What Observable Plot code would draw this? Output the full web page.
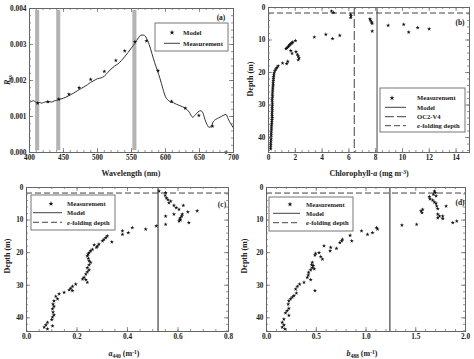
<!DOCTYPE html>
<html><head><meta charset="utf-8">
<script src="https://cdn.jsdelivr.net/npm/d3@7"></script>
<script src="https://cdn.jsdelivr.net/npm/@observablehq/plot@0.6"></script>
<style>
body{margin:0;background:#fff;}
#wrap{position:relative;width:474px;height:359px;overflow:hidden;background:#fff;}
#wrap svg{position:absolute;overflow:visible;}
</style></head><body><div id="wrap"></div>
<script>
// ---------- Panel (a) data ----------
const bandWavelengths = [412, 443, 555];
const measWavelength = [400,403,406,409,412,415,418,421,424,427,430,433,436,440,445,450,455,460,465,470,475,480,485,490,495,500,505,510,515,520,525,530,535,540,545,550,555,560,564,568,572,576,580,584,588,592,596,600,604,608,612,616,620,625,630,635,640,644,648,652,655,658,661,664,667,670,674,678,682,686,689,692,696,700];
const measRrs = [0.00145,0.00142,0.00144,0.00140,0.00138,0.00139,0.00137,0.00139,0.00141,0.00139,0.00141,0.00140,0.00143,0.00145,0.00148,0.00151,0.00155,0.00160,0.00165,0.00171,0.00177,0.00182,0.00188,0.00195,0.00200,0.00205,0.00207,0.00212,0.00222,0.00232,0.00240,0.00246,0.00255,0.00266,0.00278,0.00291,0.00303,0.00318,0.00326,0.00326,0.00318,0.00300,0.00275,0.00250,0.00228,0.00205,0.00178,0.00155,0.00145,0.00140,0.00138,0.00134,0.00131,0.00127,0.00122,0.00112,0.00098,0.00105,0.00113,0.00116,0.00110,0.00092,0.00078,0.00070,0.00072,0.00085,0.00092,0.00096,0.00100,0.00104,0.00106,0.00094,0.00080,0.00068];
const modelWavelength = [412,427,443,458,473,490,510,527,540,555,572,589,609,629,649,669,689];
const modelRrs = [0.00137,0.00141,0.00148,0.00162,0.00180,0.00203,0.00225,0.00256,0.00282,0.00308,0.00310,0.00227,0.00142,0.00123,0.00103,0.00073,0.00000];

// ---------- Panel (b) data: [chlorophyll-a, depth] ----------
const chlMeas = [[4.70,1.1],[4.85,1.6],[6.13,2.1],[6.16,2.6],[6.13,3.1],[7.57,3.5],[7.62,4.0],[7.69,4.5],[7.74,4.9],[7.74,7.3],[8.93,5.5],[10.09,5.2],[10.46,7.6],[11.13,6.2],[11.99,6.6],[3.42,9.1],[4.28,8.3],[4.78,9.6],[5.32,8.6],
[1.31,12.7],[1.38,12.4],[1.46,12.1],[1.52,11.8],[1.58,11.5],[1.65,11.2],[1.73,11.0],[1.81,10.7],[2.01,10.2],
[1.76,14.1],[1.66,13.3],[2.05,13.6],[2.15,14.4],[2.22,15.0],[2.28,15.6],[2.22,16.1],[1.44,16.6],[1.36,17.3],[1.05,17.1],
[0.72,18.0],[0.62,18.5],[0.55,19.0],[0.47,19.5],[0.42,20.1],[0.40,20.7],[0.38,21.3],[0.37,21.9],[0.36,22.5],[0.34,23.1],[0.35,23.7],[0.33,24.3],[0.32,24.9],[0.31,25.5],[0.30,26.1],[0.29,26.7],[0.30,27.3],[0.28,27.9],[0.27,28.5],[0.28,29.1],[0.29,29.7],[0.28,30.3],[0.27,30.9],[0.28,31.5],[0.27,32.1],[0.26,32.7],[0.27,33.3],[0.28,33.9],[0.26,34.5],[0.25,35.1],[0.24,35.7],[0.23,36.3],[0.22,36.9],[0.22,37.5],[0.21,38.1],[0.20,38.7],[0.20,39.3],[0.19,39.9],[0.19,40.5],[0.18,41.1],[0.17,41.7],[0.17,42.3],[0.16,42.9],[0.16,43.5]];
const chlModel = [8.1];
const chlOC2 = [6.4];
const eFoldingDepth = [1.7];

// ---------- Panel (c) data: [a440, depth] ----------
const a440Meas = [[0.525,1.1],[0.551,1.6],[0.549,2.4],[0.554,3.2],[0.560,3.7],[0.571,4.2],[0.564,4.7],[0.584,5.5],[0.593,6.2],[0.604,6.7],[0.621,5.5],[0.639,7.5],[0.676,7.2],[0.617,8.2],[0.615,8.8],[0.609,9.3],[0.607,9.8],[0.610,10.0],[0.584,8.2],[0.551,8.8],[0.551,11.3],[0.643,10.8],[0.604,10.3],
[0.514,11.8],[0.472,12.8],[0.419,12.3],[0.403,13.9],[0.380,13.3],[0.380,14.4],[0.338,16.7],[0.320,14.9],[0.314,15.4],[0.307,15.9],[0.301,16.4],[0.287,17.4],[0.281,18.0],[0.277,18.4],[0.268,17.6],[0.261,19.0],[0.254,19.5],[0.248,20.0],[0.244,20.5],[0.241,21.0],[0.245,21.8],[0.248,22.5],[0.254,23.0],[0.248,23.8],[0.241,24.6],[0.248,25.3],[0.241,25.9],[0.235,26.6],[0.228,27.6],[0.235,28.3],[0.241,29.1],[0.222,28.1],
[0.195,29.7],[0.182,30.4],[0.175,31.0],[0.169,31.4],[0.182,31.7],[0.149,32.2],[0.129,32.7],[0.116,33.4],[0.123,34.2],[0.109,34.8],[0.105,35.8],[0.109,36.5],[0.103,37.3],[0.105,38.3],[0.109,39.1],[0.103,39.8],[0.100,40.6],[0.083,41.4],[0.077,42.2],[0.070,42.9],[0.083,43.4],[0.103,42.5]];
const a440Model = [0.521];

// ---------- Panel (d) data: [b488, depth] ----------
const b488Meas = [[1.687,1.1],[1.697,1.6],[1.677,2.1],[1.704,2.6],[1.637,2.8],[1.643,3.5],[1.670,3.9],[1.687,4.5],[1.704,4.9],[1.711,5.7],[1.805,5.7],[1.721,6.5],[1.570,6.7],[1.553,7.2],[1.563,7.7],[1.721,8.2],[1.738,8.8],[1.771,8.8],[1.721,9.3],[1.771,9.6],[1.361,11.6],[1.509,11.3],[1.872,10.8],[1.912,10.3],
[1.106,12.3],[1.116,12.8],[1.065,13.9],[1.015,14.4],[0.955,13.3],[0.840,14.7],[0.857,16.4],[0.763,15.9],[0.756,16.4],[0.737,16.9],[0.703,18.7],[0.645,18.4],[0.639,19.5],[0.578,17.9],[0.562,22.0],[0.545,21.2],[0.528,20.0],[0.494,20.2],[0.487,20.8],[0.460,23.0],[0.454,23.8],[0.460,24.6],[0.444,25.3],[0.423,26.1],[0.420,26.9],[0.410,27.6],[0.444,28.3],[0.487,31.7],[0.470,24.0],[0.480,25.0],[0.377,29.1],[0.333,29.7],[0.310,30.4],[0.293,31.2],[0.300,32.4],[0.276,33.2],[0.259,33.7],[0.242,34.2],[0.225,34.8],[0.218,35.8],[0.225,37.1],[0.208,37.8],[0.191,38.5],[0.225,39.3],[0.175,40.4],[0.158,41.4],[0.175,42.2],[0.158,42.9],[0.185,43.4]];
const b488Model = [1.24];

// ---------- Tick labels ----------
const aXTicks = [400,450,500,550,600,650,700];
const aYTicks = [0,0.001,0.002,0.003,0.004];
const bXTicks = [0,2,4,6,8,10,12,14];
const depthTicks = [0,10,20,30,40];
const cXTicks = [0,0.2,0.4,0.6,0.8];
const dXTicks = [0,0.5,1.0,1.5,2.0];

const FONT = "'Liberation Serif','Times New Roman',serif";
const LINE = "#444";
const wrap = document.getElementById("wrap");

function range(a, b, s) { const out = []; for (let v = a; v <= b + s * 1e-6; v += s) out.push(+v.toFixed(6)); return out; }

function innerTicks(cfg, plotW, plotH) {
  const [x0, x1] = cfg.xDomain, [d0, d1] = cfg.yDomain;
  const yb = cfg.yReverse ? d1 : d0, yt = cfg.yReverse ? d0 : d1;
  const marks = [];
  const sets = [[cfg.xTicks, 4], [cfg.xMinor, 2]];
  for (const [vals, px] of sets) {
    const f = px / plotH;
    marks.push(Plot.ruleX(vals, {x: d => d, y1: yb, y2: yb + (yt - yb) * f, stroke: "#666", strokeWidth: 0.7}));
    marks.push(Plot.ruleX(vals, {x: d => d, y1: yt, y2: yt - (yt - yb) * f, stroke: "#666", strokeWidth: 0.7}));
  }
  const ysets = [[cfg.yTicks, 4], [cfg.yMinor, 2]];
  for (const [vals, px] of ysets) {
    const f = px / plotW;
    marks.push(Plot.ruleY(vals, {y: d => d, x1: x0, x2: x0 + (x1 - x0) * f, stroke: "#666", strokeWidth: 0.7}));
    marks.push(Plot.ruleY(vals, {y: d => d, x1: x1, x2: x1 - (x1 - x0) * f, stroke: "#666", strokeWidth: 0.7}));
  }
  return marks;
}

function panel(cfg) {
  const [ml, mt, mr, mb] = cfg.margins;
  const plotW = cfg.width - ml - mr, plotH = cfg.height - mt - mb;
  const svg = Plot.plot({
    width: cfg.width, height: cfg.height,
    marginLeft: ml, marginTop: mt, marginRight: mr, marginBottom: mb,
    style: {fontFamily: FONT, fontWeight: "bold", fontSize: "7.3px", background: "transparent", color: "#222", overflow: "visible"},
    x: {domain: cfg.xDomain, axis: null},
    y: {domain: cfg.yDomain, reverse: !!cfg.yReverse, axis: null},
    marks: [
      ...cfg.marks,
      ...innerTicks(cfg, plotW, plotH),
      Plot.frame({stroke: "#666", strokeWidth: 1}),
      Plot.axisX({ticks: cfg.xTicks, tickSize: 0, tickPadding: 2.5, tickFormat: cfg.xFmt, label: null, anchor: "bottom"}),
      Plot.axisY({ticks: cfg.yTicks, tickSize: 0, tickPadding: 3, tickFormat: cfg.yFmt, label: null, anchor: "left"})
    ]
  });
  svg.style.left = cfg.left + "px";
  svg.style.top = cfg.top + "px";
  wrap.appendChild(svg);
  return svg;
}

// helper: add rich text (tspans) at absolute coords
function richText(svg, ox, oy, x, y, parts, {size = 8, anchor = "middle", rotate = 0} = {}) {
  const t = d3.select(svg).append("text")
    .attr("transform", `translate(${x - ox},${y - oy}) rotate(${rotate})`)
    .attr("text-anchor", anchor).attr("dy", "0.35em")
    .attr("font-family", FONT).attr("font-weight", "bold").attr("font-size", size).attr("fill", "#222");
  for (const p of parts) {
    const s = t.append("tspan").text(p.t);
    if (p.i) s.attr("font-style", "italic");
    if (p.sub) s.attr("font-size", size * 0.7).attr("baseline-shift", "-25%");
    if (p.sup) s.attr("font-size", size * 0.7).attr("baseline-shift", "40%");
  }
  return t;
}

function legend(svg, ox, oy, box, rows, size = 6.6) {
  const g = d3.select(svg).append("g").attr("transform", `translate(${-ox},${-oy})`);
  g.append("rect").attr("x", box[0]).attr("y", box[1]).attr("width", box[2] - box[0]).attr("height", box[3] - box[1])
    .attr("fill", "white").attr("stroke", "#777").attr("stroke-width", 1);
  for (const r of rows) {
    if (r.kind === "dot") {
      g.append("path").attr("d", d3.symbol(d3.symbolStar, 8)()).attr("fill", "#111")
        .attr("transform", `translate(${r.sx},${r.y})`);
    } else {
      g.append("line").attr("x1", r.x1).attr("x2", r.x2).attr("y1", r.y).attr("y2", r.y)
        .attr("stroke", LINE).attr("stroke-width", 1).attr("stroke-dasharray", r.dash || null);
    }
    const t = g.append("text").attr("x", r.tx).attr("y", r.y).attr("dy", "0.35em").attr("font-family", FONT)
      .attr("text-anchor", "start")
      .attr("font-weight", "bold").attr("font-size", size).attr("fill", "#222");
    if (r.label === "e-folding depth") {
      t.append("tspan").attr("font-style", "italic").text("e");
      t.append("tspan").text("-folding depth");
    } else t.text(r.label);
  }
}

const dotOpts = {symbol: "star", r: 1.3, fill: "#111", stroke: "none"};

// ----- Panel (a) -----
const measA = measWavelength.map((w, i) => ({w, r: measRrs[i]}));
const modelA = modelWavelength.map((w, i) => ({w, r: modelRrs[i]}));
const svgA = panel({
  left: 0, top: 0, width: 237, height: 180, margins: [29, 8, 4, 28],
  xDomain: [400, 700], yDomain: [0, 0.004],
  xTicks: aXTicks, yTicks: aYTicks, xMinor: range(400, 700, 10), yMinor: range(0, 0.004, 0.0002),
  xFmt: d => d, yFmt: d3.format(".3f"),
  marks: [
    Plot.rect(bandWavelengths, {x1: d => d - 3, x2: d => d + 3, y1: 0.00005, y2: 0.00395, fill: "#b3b3b3"}),
    Plot.line(measA, {x: "w", y: "r", stroke: "#333", strokeWidth: 1, curve: "monotone-x"}),
    Plot.dot(modelA, {x: "w", y: "r", ...dotOpts})
  ]
});
richText(svgA, 0, 0, 131, 173, [{t: "Wavelength (nm)"}]);
richText(svgA, 0, 0, 7, 80, [{t: "R", i: true}, {t: "rs", sub: true}], {rotate: -90});
richText(svgA, 0, 0, 221, 17, [{t: "(a)"}], {size: 7.5});
legend(svgA, 0, 0, [155, 23, 228, 51], [
  {kind: "dot", sx: 172, y: 32.5, tx: 183, label: "Model"},
  {kind: "line", x1: 164, x2: 180, y: 43.3, tx: 183, label: "Measurement"}
], 6.8);

// ----- Panel (b) -----
const svgB = panel({
  left: 237, top: 0, width: 237, height: 180, margins: [31, 7, 5, 28],
  xDomain: [0, 15], yDomain: [0, 44.6], yReverse: true,
  xTicks: bXTicks, yTicks: depthTicks, xMinor: range(0, 15, 0.5), yMinor: range(0, 44, 2),
  xFmt: d => d, yFmt: d => d,
  marks: [
    Plot.ruleY(eFoldingDepth, {y: d => d, stroke: LINE, strokeWidth: 1, strokeDasharray: "6,3"}),
    Plot.ruleX(chlOC2, {x: d => d, stroke: LINE, strokeWidth: 1, strokeDasharray: "9,3"}),
    Plot.ruleX(chlModel, {x: d => d, stroke: LINE, strokeWidth: 1}),
    Plot.dot(chlMeas, {x: d => d[0], y: d => d[1], ...dotOpts})
  ]
});
richText(svgB, 237, 0, 369, 173, [{t: "Chlorophyll-"}, {t: "a", i: true}, {t: " (mg m"}, {t: "-3", sup: true}, {t: ")"}]);
richText(svgB, 237, 0, 250, 79, [{t: "Depth (m)"}], {rotate: -90});
richText(svgB, 237, 0, 460, 22, [{t: "(b)"}], {size: 7.5});
legend(svgB, 237, 0, [380, 88, 465, 132], [
  {kind: "dot", sx: 392, y: 98, tx: 417, label: "Measurement"},
  {kind: "line", x1: 385, x2: 406, y: 107.3, tx: 417, label: "Model"},
  {kind: "line", x1: 385, x2: 406, y: 116.7, tx: 417, label: "OC2-V4", dash: "9,3"},
  {kind: "line", x1: 385, x2: 406, y: 125.7, tx: 417, label: "e-folding depth", dash: "6,3"}
]);

// ----- Panel (c) -----
const svgC = panel({
  left: 0, top: 180, width: 237, height: 179, margins: [26, 7, 9, 28],
  xDomain: [0, 0.8], yDomain: [0, 44.2], yReverse: true,
  xTicks: cXTicks, yTicks: depthTicks, xMinor: range(0, 0.8, 0.05), yMinor: range(0, 44, 2),
  xFmt: d3.format(".1f"), yFmt: d => d,
  marks: [
    Plot.ruleY(eFoldingDepth, {y: d => d, stroke: LINE, strokeWidth: 1, strokeDasharray: "6,3"}),
    Plot.ruleX(a440Model, {x: d => d, stroke: LINE, strokeWidth: 1.2}),
    Plot.dot(a440Meas, {x: d => d[0], y: d => d[1], ...dotOpts})
  ]
});
richText(svgC, 0, 180, 124, 353, [{t: "a", i: true}, {t: "440", sub: true}, {t: " (m"}, {t: "-1", sup: true}, {t: ")"}]);
richText(svgC, 0, 180, 7, 256, [{t: "Depth (m)"}], {rotate: -90});
richText(svgC, 0, 180, 222, 204, [{t: "(c)"}], {size: 7.5});
legend(svgC, 0, 180, [31, 195, 115, 230], [
  {kind: "dot", sx: 51, y: 203.7, tx: 67, label: "Measurement"},
  {kind: "line", x1: 33, x2: 62, y: 212.7, tx: 67, label: "Model"},
  {kind: "line", x1: 33, x2: 62, y: 222.3, tx: 67, label: "e-folding depth", dash: "6,3"}
]);

// ----- Panel (d) -----
const svgD = panel({
  left: 237, top: 180, width: 237, height: 179, margins: [29, 7, 9, 28],
  xDomain: [0, 2], yDomain: [0, 44.2], yReverse: true,
  xTicks: dXTicks, yTicks: depthTicks, xMinor: range(0, 2, 0.1), yMinor: range(0, 44, 2),
  xFmt: d3.format(".1f"), yFmt: d => d,
  marks: [
    Plot.ruleY(eFoldingDepth, {y: d => d, stroke: LINE, strokeWidth: 1, strokeDasharray: "6,3"}),
    Plot.ruleX(b488Model, {x: d => d, stroke: LINE, strokeWidth: 1.2}),
    Plot.dot(b488Meas, {x: d => d[0], y: d => d[1], ...dotOpts})
  ]
});
richText(svgD, 237, 180, 362, 353, [{t: "b", i: true}, {t: "488", sub: true}, {t: " (m"}, {t: "-1", sup: true}, {t: ")"}]);
richText(svgD, 237, 180, 244, 256, [{t: "Depth (m)"}], {rotate: -90});
richText(svgD, 237, 180, 460, 202, [{t: "(d)"}], {size: 7.5});
legend(svgD, 237, 180, [269, 197, 353, 231], [
  {kind: "dot", sx: 290, y: 204.3, tx: 306, label: "Measurement"},
  {kind: "line", x1: 273, x2: 300, y: 213.3, tx: 306, label: "Model"},
  {kind: "line", x1: 273, x2: 300, y: 222.7, tx: 306, label: "e-folding depth", dash: "6,3"}
]);
</script>
</body></html>
